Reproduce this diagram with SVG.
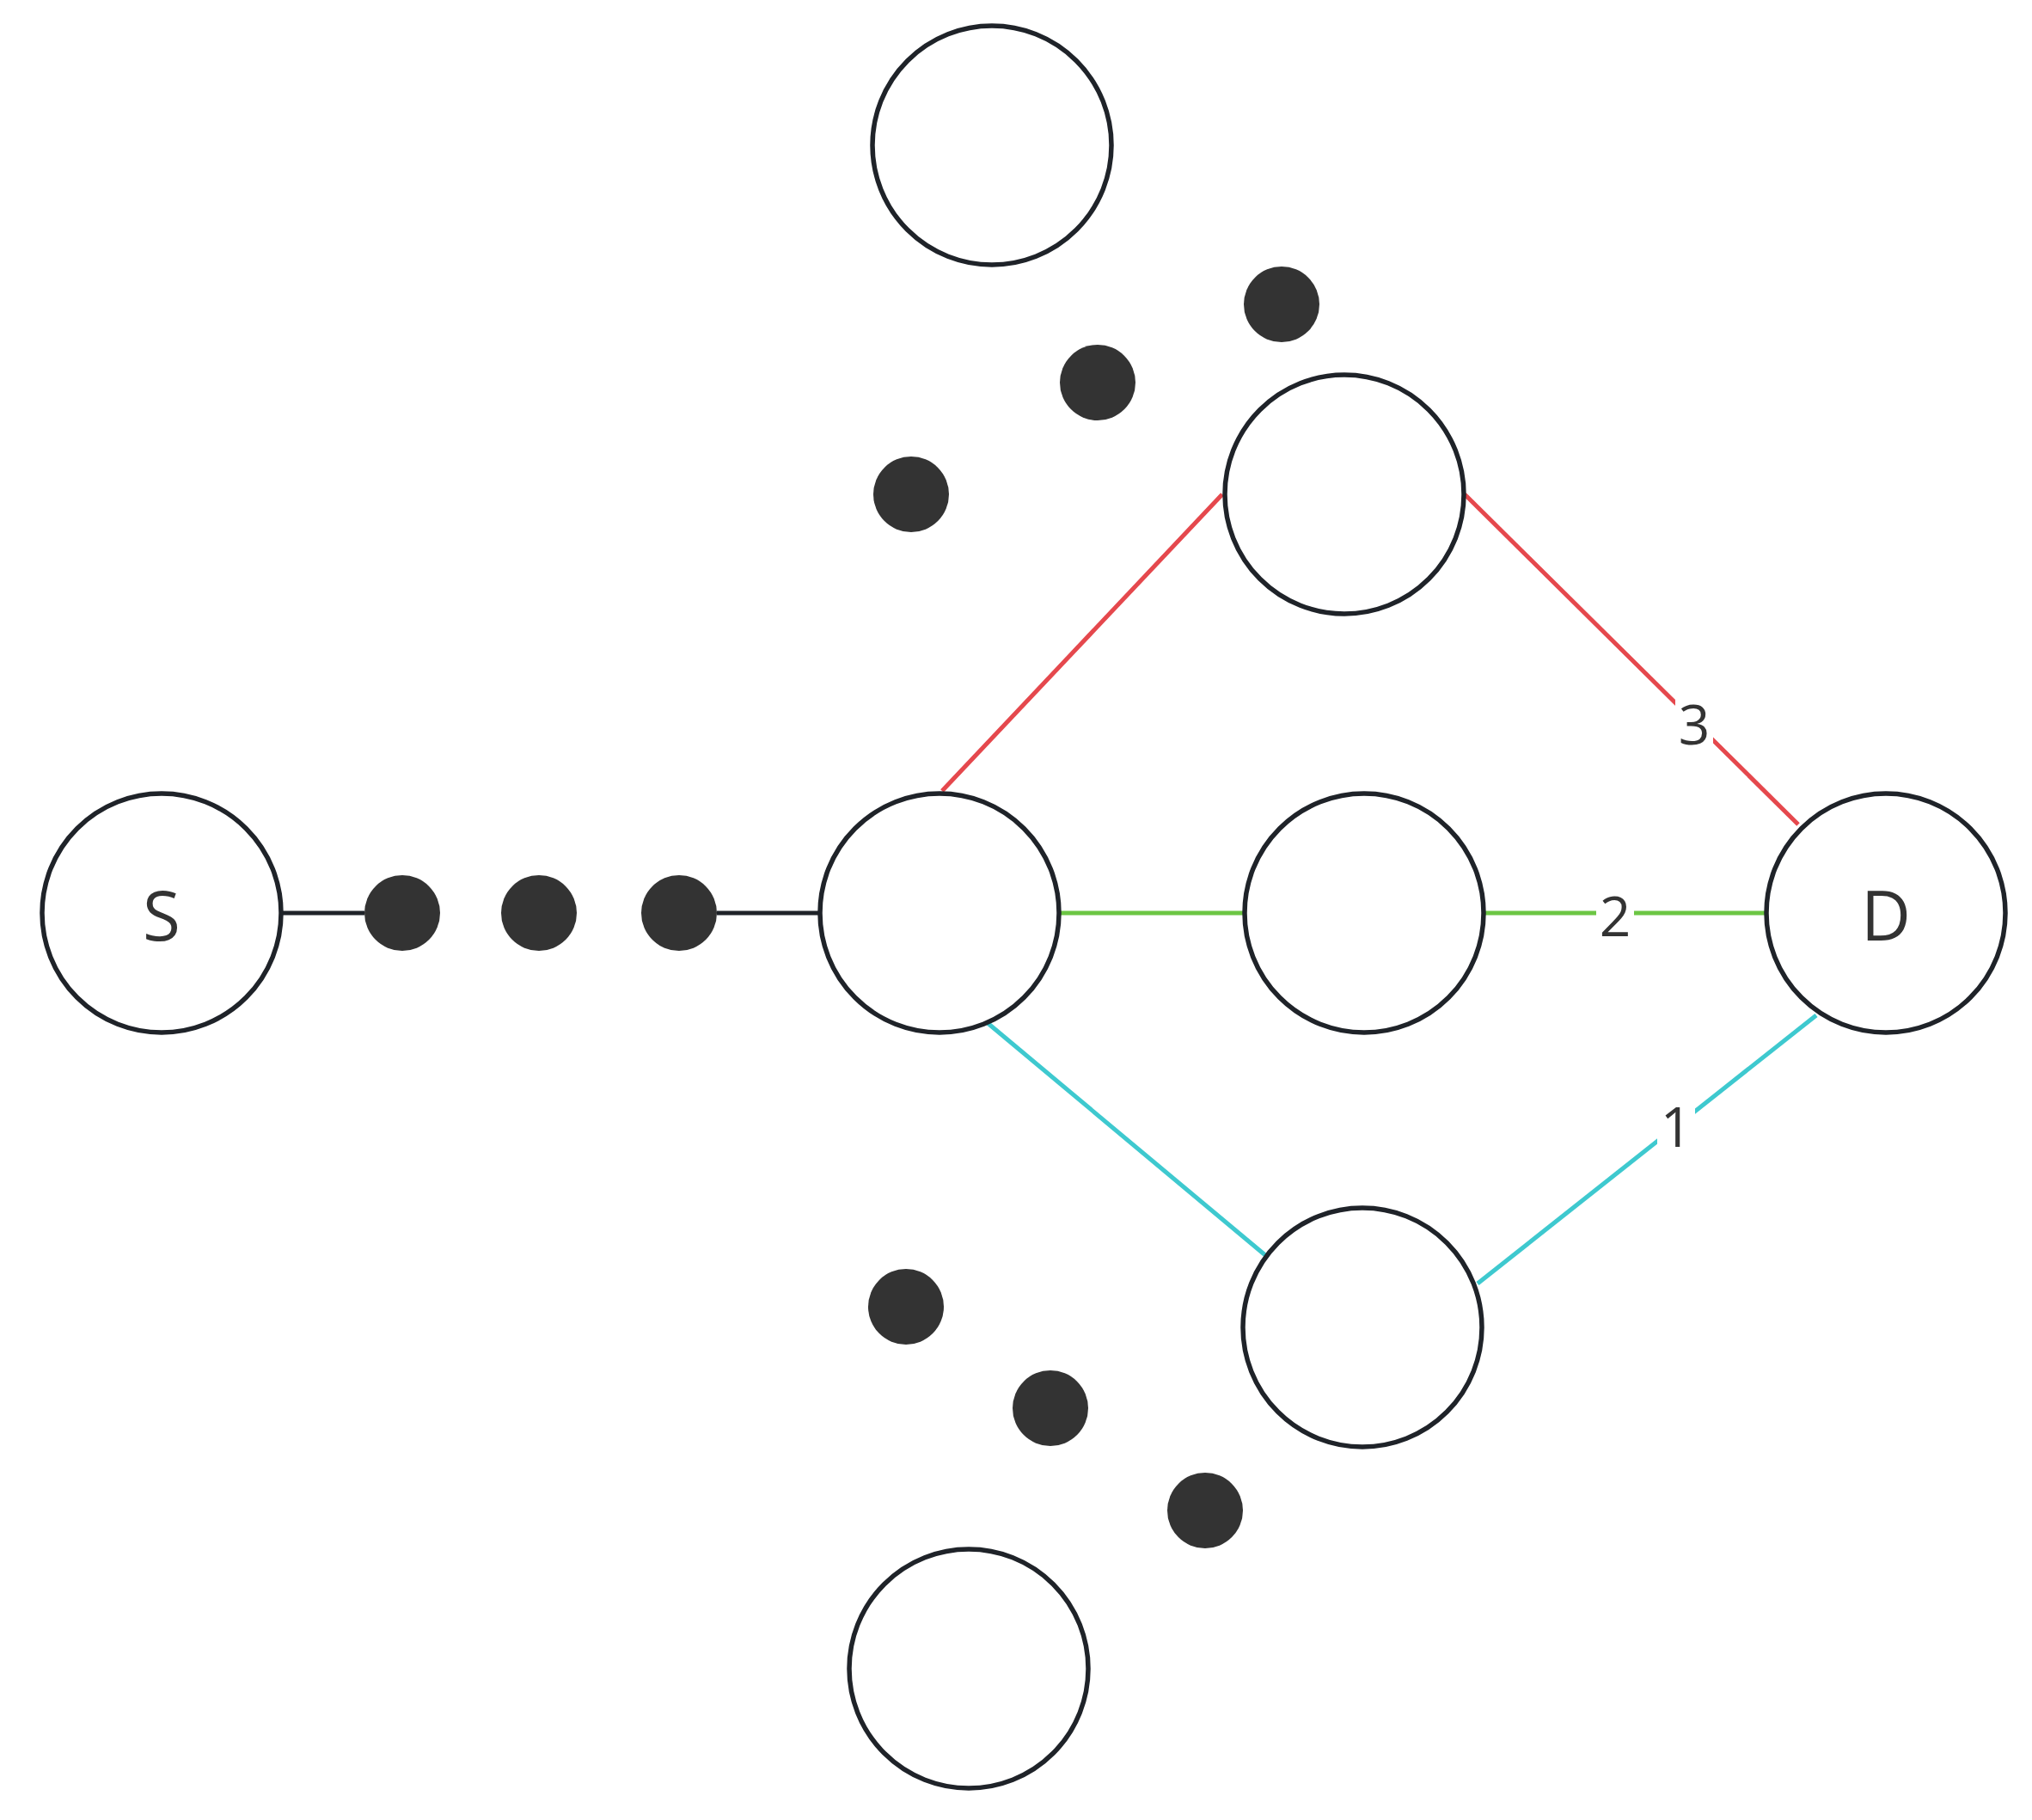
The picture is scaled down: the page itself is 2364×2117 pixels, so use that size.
<svg xmlns="http://www.w3.org/2000/svg" width="2364" height="2117" viewBox="0 0 2364 2117">
<style>
.n{fill:#fff;stroke:#1f2329;stroke-width:5.5}
.d{fill:#333}
.t{font-family:"Open Sans","Noto Sans",sans-serif;fill:#333;text-anchor:middle;dominant-baseline:central}
.l{stroke-width:5;fill:none}
.lb{fill:#fff}
</style>
<rect width="2364" height="2117" fill="#fff"/>
<g id="connectors">
<line class="l" stroke="#1f2329" x1="329" y1="1062" x2="424" y2="1062"/>
<line class="l" stroke="#1f2329" x1="834" y1="1062" x2="953" y2="1062"/>
<line class="l" stroke="#e5484d" x1="1096" y1="920" x2="1422" y2="575"/>
<line class="l" stroke="#e5484d" x1="1704" y1="575" x2="2092" y2="959"/>
<line class="l" stroke="#6cc644" x1="1234" y1="1062" x2="1446" y2="1062"/>
<line class="l" stroke="#6cc644" x1="1728" y1="1062" x2="2054" y2="1062"/>
<line class="l" stroke="#3ec9cf" x1="1149" y1="1190" x2="1472" y2="1460"/>
<line class="l" stroke="#3ec9cf" x1="1719" y1="1493" x2="2113" y2="1181"/>
<rect class="lb" x="1949" y="804" width="44" height="74"/>
<text class="t" x="1971" y="841" font-size="64">3</text>
<rect class="lb" x="1857" y="1028" width="44" height="74"/>
<text class="t" x="1879" y="1064" font-size="64">2</text>
<rect class="lb" x="1928" y="1272" width="44" height="74"/>
<text class="t" x="1950" y="1309" font-size="64">1</text>
</g>
<g id="top"><circle class="n" cx="1154" cy="169" r="139"/></g>
<g id="upper"><circle class="n" cx="1564" cy="575" r="139"/></g>
<g id="S"><circle class="n" cx="188" cy="1062" r="139"/><text class="t" x="188" y="1062" font-size="80">S</text></g>
<g id="hub"><circle class="n" cx="1093" cy="1062" r="139"/></g>
<g id="middle"><circle class="n" cx="1587" cy="1062" r="139"/></g>
<g id="D"><circle class="n" cx="2194" cy="1062" r="139"/><text class="t" x="2194" y="1062" font-size="80">D</text></g>
<g id="lower"><circle class="n" cx="1585" cy="1544" r="139"/></g>
<g id="bottom"><circle class="n" cx="1127" cy="1941" r="139"/></g>
<g id="dots">
<circle class="d" cx="1491" cy="354" r="44"/>
<circle class="d" cx="1277" cy="445" r="44"/>
<circle class="d" cx="1060" cy="575" r="44"/>
<circle class="d" cx="468" cy="1062" r="44"/>
<circle class="d" cx="627" cy="1062" r="44"/>
<circle class="d" cx="790" cy="1062" r="44"/>
<circle class="d" cx="1054" cy="1520" r="44"/>
<circle class="d" cx="1222" cy="1638" r="44"/>
<circle class="d" cx="1402" cy="1757" r="44"/>
</g>
</svg>
